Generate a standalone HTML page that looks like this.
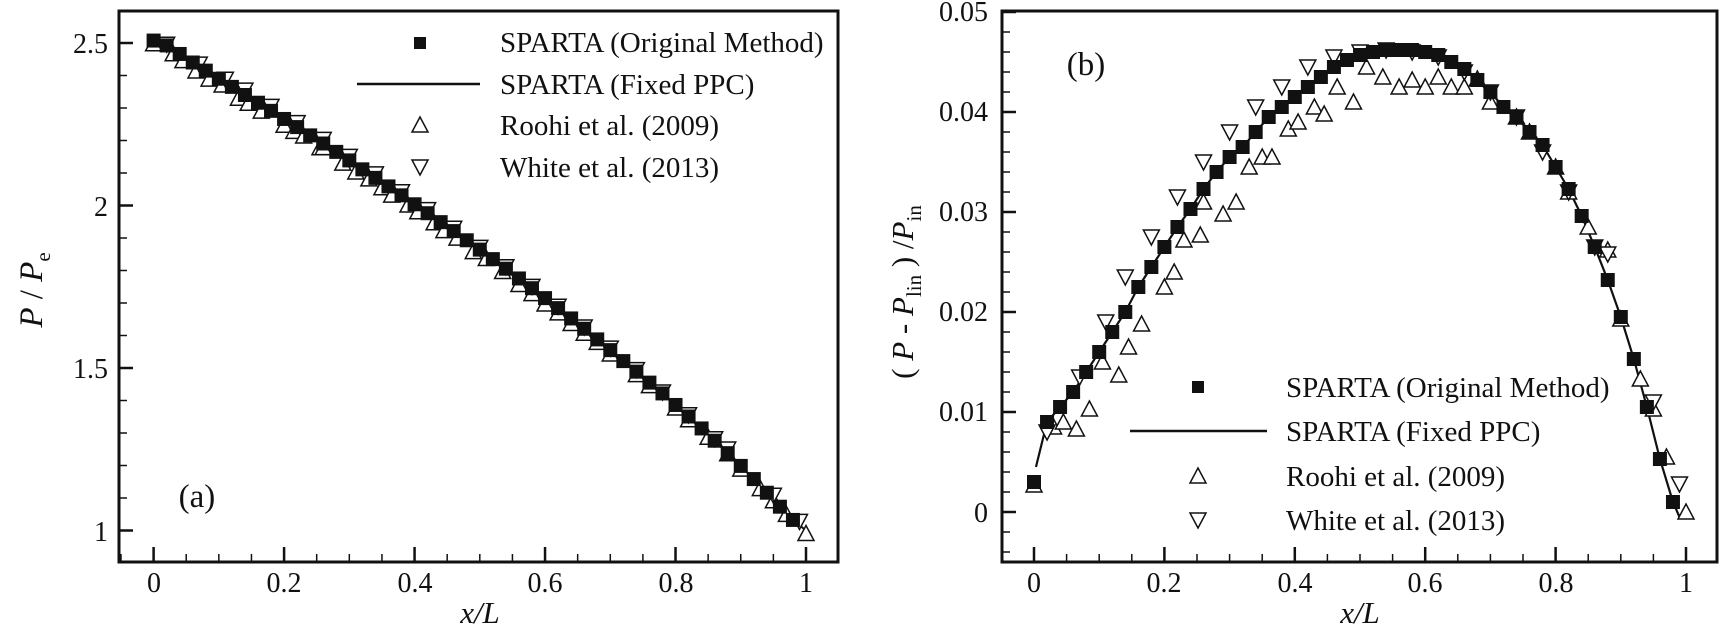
<!DOCTYPE html>
<html><head><meta charset="utf-8">
<style>
html,body{margin:0;padding:0;background:#fff;}
svg{display:block;font-family:"Liberation Serif",serif;}
text{fill:#111;}
</style></head>
<body>
<svg id="s" width="1720" height="627" viewBox="0 0 1720 627" xmlns="http://www.w3.org/2000/svg">
<g id="g"></g>
<g font-size="28" text-anchor="end">
<text x="108" y="53">2.5</text>
<text x="108" y="216">2</text>
<text x="108" y="378">1.5</text>
<text x="108" y="541">1</text>
</g>
<g font-size="28" text-anchor="middle">
<text x="154" y="592">0</text>
<text x="284" y="592">0.2</text>
<text x="415" y="592">0.4</text>
<text x="545" y="592">0.6</text>
<text x="676" y="592">0.8</text>
<text x="806" y="592">1</text>
<text x="1034" y="592">0</text>
<text x="1164" y="592">0.2</text>
<text x="1295" y="592">0.4</text>
<text x="1425" y="592">0.6</text>
<text x="1556" y="592">0.8</text>
<text x="1686" y="592">1</text>
</g>
<g font-size="28" text-anchor="end">
<text x="988" y="21">0.05</text>
<text x="988" y="121">0.04</text>
<text x="988" y="221">0.03</text>
<text x="988" y="321">0.02</text>
<text x="988" y="421">0.01</text>
<text x="988" y="522">0</text>
</g>
<text x="480" y="623" font-size="31" font-style="italic" text-anchor="middle">x/L</text>
<text x="1360" y="623" font-size="31" font-style="italic" text-anchor="middle">x/L</text>
<text transform="translate(42,290) rotate(-90)" font-size="33" text-anchor="middle"><tspan font-style="italic">P</tspan> / <tspan font-style="italic">P</tspan><tspan font-size="21" dy="8">e</tspan></text>
<text transform="translate(913,292) rotate(-90)" font-size="31" text-anchor="middle">( <tspan font-style="italic">P</tspan> - <tspan font-style="italic">P</tspan><tspan font-size="21" dy="8">lin</tspan><tspan dy="-8"> ) /</tspan><tspan font-style="italic">P</tspan><tspan font-size="21" dy="8">in</tspan></text>
<text x="197" y="507" font-size="33" text-anchor="middle">(a)</text>
<text x="1086" y="75" font-size="33" text-anchor="middle">(b)</text>
<g font-size="29">
<text x="500" y="52">SPARTA (Original Method)</text>
<text x="500" y="94">SPARTA (Fixed PPC)</text>
<text x="500" y="135">Roohi et al. (2009)</text>
<text x="500" y="177">White et al. (2013)</text>
<text x="1286" y="397">SPARTA (Original Method)</text>
<text x="1286" y="441">SPARTA (Fixed PPC)</text>
<text x="1286" y="486">Roohi et al. (2009)</text>
<text x="1286" y="530">White et al. (2013)</text>
</g>
</svg>
<script>
var NS="http://www.w3.org/2000/svg",g=document.getElementById('g');
function el(t,a){var e=document.createElementNS(NS,t);for(var k in a)e.setAttribute(k,a[k]);g.appendChild(e);return e;}
function line(x1,y1,x2,y2,w){el('line',{x1:x1,y1:y1,x2:x2,y2:y2,stroke:'#111','stroke-width':w||2.5});}
function sq(x,y,s){s=s||14;el('rect',{x:x-s/2,y:y-s/2,width:s,height:s,fill:'#111'});}
function tri(x,y,up){var h=14,w=16;var p=up?[[x,y-h/2-1],[x-w/2,y+h/2],[x+w/2,y+h/2]]:[[x,y+h/2+1],[x-w/2,y-h/2],[x+w/2,y-h/2]];
el('polygon',{points:p.map(function(q){return q.join(',')}).join(' '),fill:'#fff',stroke:'#111','stroke-width':1.5});}
var sp=[[0,0.003],[0.02,0.009],[0.04,0.0105],[0.06,0.012],[0.08,0.014],[0.1,0.016],[0.12,0.018],[0.14,0.020],[0.16,0.0225],[0.18,0.0245],[0.2,0.0265],[0.22,0.0285],[0.24,0.0303],[0.26,0.0323],[0.28,0.034],[0.3,0.0355],[0.32,0.0365],[0.34,0.038],[0.36,0.0395],[0.38,0.0405],[0.4,0.0415],[0.42,0.0425],[0.44,0.0435],[0.46,0.0445],[0.48,0.0452],[0.5,0.0457],[0.52,0.046],[0.54,0.0462],[0.56,0.0462],[0.58,0.0462],[0.6,0.046],[0.62,0.0457],[0.64,0.045],[0.66,0.0443],[0.68,0.0432],[0.7,0.042],[0.72,0.0405],[0.74,0.0395],[0.76,0.038],[0.78,0.0367],[0.8,0.0345],[0.82,0.0323],[0.84,0.0296],[0.86,0.0265],[0.88,0.0232],[0.9,0.0195],[0.92,0.0153],[0.94,0.0105],[0.96,0.0053],[0.98,0.001]];
var ro=[[0,0.0027],[0.03,0.0085],[0.045,0.009],[0.065,0.0083],[0.085,0.0103],[0.105,0.015],[0.13,0.0137],[0.145,0.0165],[0.165,0.0188],[0.2,0.0225],[0.215,0.024],[0.23,0.0272],[0.255,0.0277],[0.26,0.031],[0.29,0.0298],[0.31,0.031],[0.33,0.0345],[0.35,0.0355],[0.365,0.0355],[0.39,0.0383],[0.405,0.039],[0.43,0.0405],[0.445,0.0398],[0.465,0.0425],[0.49,0.041],[0.51,0.0445],[0.535,0.0435],[0.56,0.0425],[0.58,0.0432],[0.6,0.0425],[0.62,0.0435],[0.64,0.0425],[0.66,0.0425],[0.68,0.0433],[0.7,0.041],[0.74,0.0395],[0.76,0.038],[0.8,0.0345],[0.82,0.032],[0.85,0.0285],[0.88,0.0262],[0.9,0.0193],[0.93,0.0133],[0.95,0.0103],[0.97,0.0055],[1.0,0.0]];
var wh=[[0.02,0.008],[0.07,0.0135],[0.11,0.019],[0.14,0.0235],[0.18,0.0275],[0.22,0.0315],[0.26,0.035],[0.3,0.038],[0.34,0.0405],[0.38,0.0425],[0.42,0.0445],[0.46,0.0455],[0.5,0.046],[0.54,0.0462],[0.58,0.046],[0.62,0.0455],[0.66,0.044],[0.7,0.042],[0.74,0.0395],[0.78,0.036],[0.82,0.032],[0.86,0.0265],[0.88,0.0258],[0.95,0.011],[0.99,0.0028]];
function LX(x){return 153.6+652.4*x}function LY(v){return 43+(2.5-v)*325}
function RX(x){return 1034+652*x}function RY(d){return 512-10000*d}
function pe(p){return 2.5*(1-0.6*p[0]+p[1])}
el('rect',{x:119,y:11,width:719,height:551,fill:'none',stroke:'#111','stroke-width':3});
el('rect',{x:1002,y:11,width:715,height:551,fill:'none',stroke:'#111','stroke-width':3});
for(var i=0;i<=16;i++){var v=1+i*0.1;var y=LY(v);if(y<12||y>561)continue;var maj=(i%5==0);line(119,y,119+(maj?14:8),y,maj?2.5:1.5);}
for(var i=-1;i<=21;i++){var x=LX(i*0.05);if(x<120||x>837)continue;var maj=(i%4==0);line(x,562,x,562-(maj?15:8),maj?2.5:1.5);}
for(var i=-3;i<=25;i++){var d=i*0.002;var y=RY(d);if(y<12||y>561)continue;var maj=(i%5==0);line(1002,y,1002+(maj?14:8),y,maj?2.5:1.5);}
for(var i=-1;i<=21;i++){var x=RX(i*0.05);if(x<1003||x>1716)continue;var maj=(i%4==0);line(x,562,x,562-(maj?15:8),maj?2.5:1.5);}
var pts=sp.concat([[1,0]]);
el('polyline',{points:pts.map(function(p){return LX(p[0])+','+LY(pe(p))}).join(' '),fill:'none',stroke:'#111','stroke-width':2});
ro.forEach(function(p){tri(LX(p[0]),LY(pe(p))+3,true)});
wh.forEach(function(p){tri(LX(p[0]),LY(pe(p))-2,false)});
sp.forEach(function(p){sq(LX(p[0]),LY(pe(p)))});
el('polyline',{points:[[0.003,0.0045]].concat(sp.slice(1)).concat([[0.99,-0.0005]]).map(function(p){return RX(p[0])+','+RY(p[1])}).join(' '),fill:'none',stroke:'#111','stroke-width':2.2});
ro.forEach(function(p){tri(RX(p[0]),RY(p[1]),true)});
wh.forEach(function(p){tri(RX(p[0]),RY(p[1]),false)});
sp.forEach(function(p){sq(RX(p[0]),RY(p[1]))});
sq(420,43,12);line(357,84,480,84,2.5);tri(420,125,true);tri(420,167,false);
sq(1198,387,12);line(1130,431,1267,431,2.5);tri(1198,476,true);tri(1198,520,false);
</script>
</body></html>
